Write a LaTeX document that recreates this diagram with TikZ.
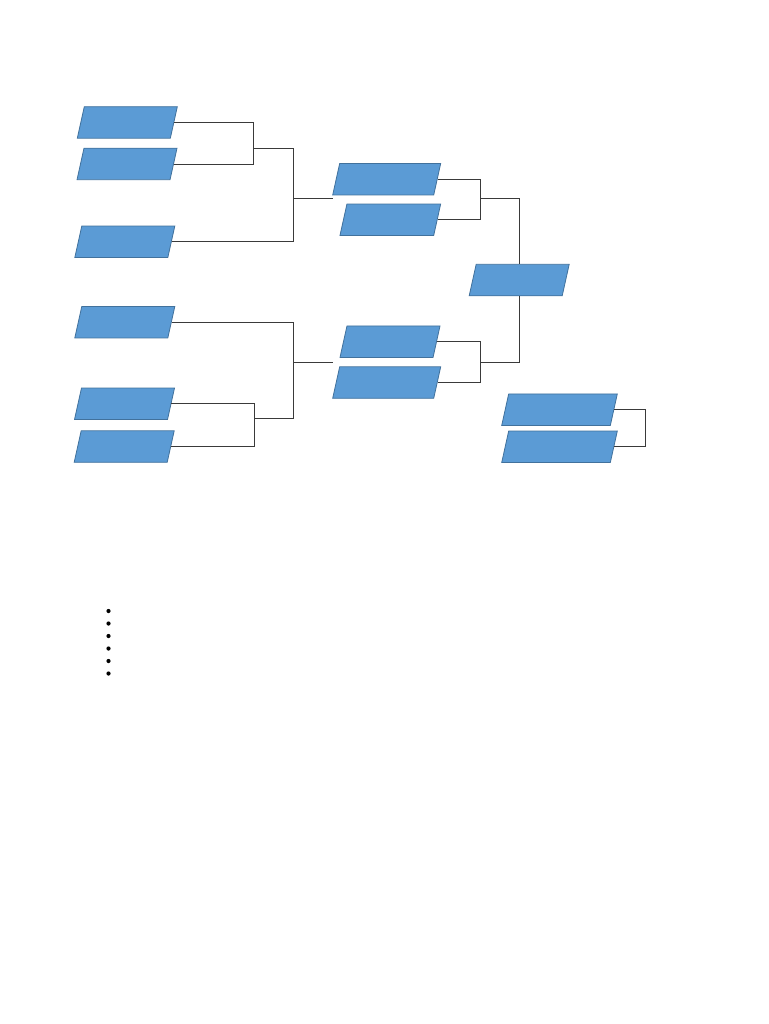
\documentclass[tikz,border=0pt]{standalone}
\usetikzlibrary{shapes.geometric}

\definecolor{slotfill}{HTML}{5B9BD5}
\definecolor{slotedge}{HTML}{41719C}
\definecolor{wire}{HTML}{3A3A3A}

\tikzset{
  slot/.style={trapezium, trapezium left angle=77.5, trapezium right angle=102.5,
    trapezium stretches body, draw=slotedge, line width=0.8pt, fill=slotfill,
    text height=31.5pt, text depth=0pt, minimum width=#1, inner sep=0pt},
  slot/.default=100pt,
  wiring/.style={draw=wire, line width=0.9pt},
  bullet/.style={circle, fill=black, inner sep=0pt, minimum size=4.2pt}
}

\begin{document}
\begin{tikzpicture}[x=1pt, y=-1pt]
  \useasboundingbox (0,0) rectangle (768,1024);
  % round 1
  \foreach \name/\x/\y in {q1/127.3/122.5, q2/127/164, q3/124.8/241.8, q4/124.8/322.2, q5/124.5/403.8, q6/124.2/446.5}
    \node[slot] (\name) at (\x,\y) {};
  % round 2
  \foreach \name/\x/\y/\w in {s1/386.7/179.2/108, s2/390.3/219.8/100.7, s3/390/341.7/100, s4/386.7/382.5/108}
    \node[slot=\w pt] (\name) at (\x,\y) {};
  % final and the pair below
  \node[slot] (fin) at (519.2,280) {};
  \node[slot=115.6pt] (t1) at (559.5,409.7) {};
  \node[slot=115.6pt] (t2) at (559.5,446.8) {};
  % joints
  \coordinate (a1) at (253.5,148.7);
  \coordinate (b1) at (293.3,198.3);
  \coordinate (b1e) at (332.7,198.3);
  \coordinate (a2) at (254.3,418.3);
  \coordinate (b2) at (293.3,362.3);
  \coordinate (b2e) at (332.7,362.3);
  \coordinate (c1) at (480,198.3);
  \coordinate (c2) at (480,362.3);
  \coordinate (d1) at (645,426);
  % upper left
  \draw[wiring] (q1.east) -| (a1);
  \draw[wiring] (q2.east) -| (a1);
  \draw[wiring] (a1) -| (b1);
  \draw[wiring] (q3.east) -| (b1);
  \draw[wiring] (b1) -- (b1e);
  % lower left
  \draw[wiring] (q5.east) -| (a2);
  \draw[wiring] (q6.east) -| (a2);
  \draw[wiring] (a2) -| (b2);
  \draw[wiring] (q4.east) -| (b2);
  \draw[wiring] (b2) -- (b2e);
  % middle
  \draw[wiring] (s1.east) -| (c1);
  \draw[wiring] (s2.east) -| (c1);
  \draw[wiring] (c1) -| (fin.north);
  \draw[wiring] (s3.east) -| (c2);
  \draw[wiring] (s4.east) -| (c2);
  \draw[wiring] (fin.south) |- (c2);
  % right pair
  \draw[wiring] (t1.east) -| (d1);
  \draw[wiring] (t2.east) -| (d1);
  % list
  \foreach \i in {0,...,5}
    \node[bullet] (dot\i) at (108.5, 611+12.5*\i) {};
\end{tikzpicture}
\end{document}
